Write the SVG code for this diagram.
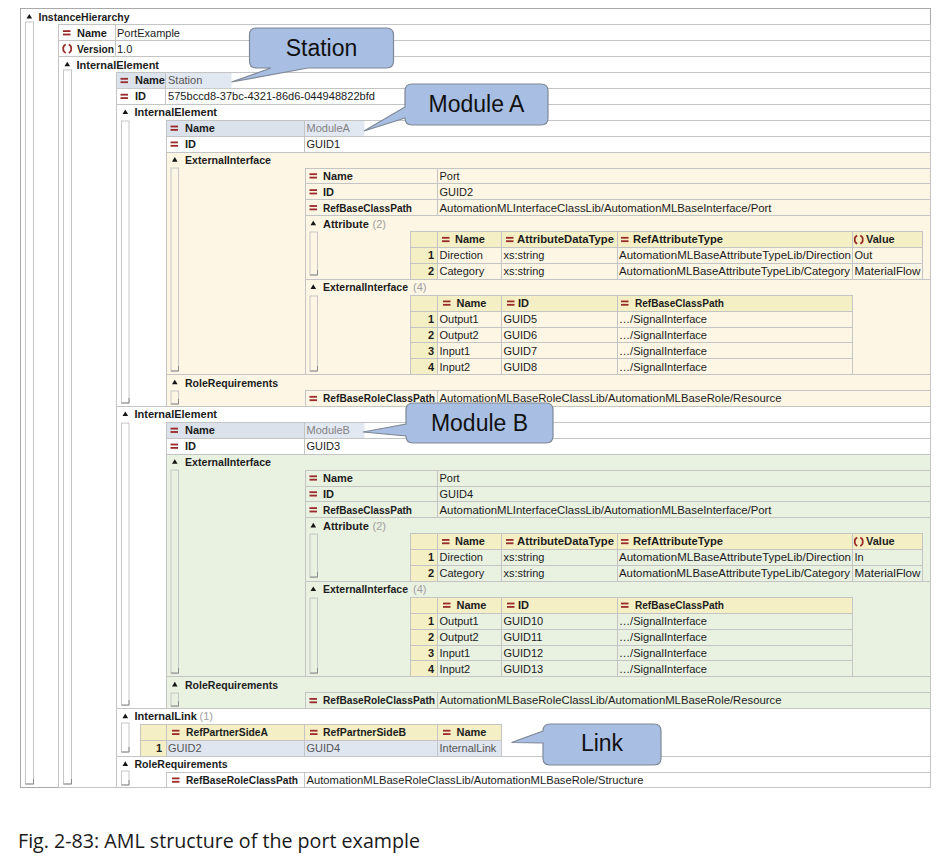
<svg xmlns="http://www.w3.org/2000/svg" width="944" height="860" viewBox="0 0 944 860">
<style>
.t{font-family:"Liberation Sans",Arial,sans-serif;font-size:11px;fill:#1c1c1c}
.b{font-family:"Liberation Sans",Arial,sans-serif;font-size:11px;font-weight:bold;fill:#1c1c1c}
.e{text-anchor:end}
.cnt{fill:#a0a0a0}
.gv{fill:#828282}
.ln{fill:none;stroke:#c4c4c4;stroke-width:1}
.yel{fill:#fdf6e4}
.grn{fill:#e9f1e1}
.hdr{fill:#f4efc4}
.selL{fill:#dbe2ec}
.selV{fill:#e2e8f2}
.bar{fill:none;stroke:#c6c6c6}
.barD{fill:none;stroke:#8a8a8a}
.co{fill:#a8bfe3;stroke:#7e8896;stroke-width:1.2}
.cot{font-family:"Liberation Sans",Arial,sans-serif;font-size:23px;fill:#111;text-anchor:middle}
.cap{font-family:"Open Sans","Noto Sans",sans-serif;font-size:20px;fill:#1a1a1a}
</style>
<defs>
<g id="eq" fill="#9b2b2b"><rect x="0" y="-2.7" width="7.5" height="1.8"/><rect x="0" y="0.7" width="7.5" height="1.8"/></g>
<path id="tri" d="M0,1.6 L5.6,1.6 L2.8,-3 Z" fill="#151515"/>
<path id="br" d="M3.2,-4.2 Q0.2,-2.5 0.8,0 Q0.2,2.5 3.2,4.2 M6.3,-4.2 Q9.3,-2.5 8.7,0 Q9.3,2.5 6.3,4.2" fill="none" stroke="#9b2b2b" stroke-width="1.7"/>
</defs>
<rect width="944" height="860" fill="#fff"/>

<g id="instanceHierarchy">
<rect x="20.5" y="8.5" width="910" height="779" fill="#fff" stroke="#a9a9a9"/>
<g class="ln" shape-rendering="crispEdges">
<rect x="58.5" y="24.9" width="872" height="15.9"/>
<rect x="58.5" y="40.8" width="872" height="15.9"/>
<line x1="115" y1="24.9" x2="115" y2="56.7"/>
<rect x="58.5" y="56.7" width="872" height="730.8"/>
<rect x="116.5" y="72.6" width="814" height="15.9"/>
<rect x="116.5" y="88.5" width="814" height="15.9"/>
</g>
<rect class="selL" x="117" y="73" width="48.5" height="15.2"/>
<rect class="selV" x="165.5" y="73" width="66" height="15.2"/>
<line class="ln" x1="165.5" y1="72.6" x2="165.5" y2="104.4"/>
<rect class="bar" x="25.5" y="22" width="8" height="762"/><path class="barD" d="M33.5,779V784H25.5"/>
<rect class="bar" x="63.5" y="70" width="8" height="714"/><path class="barD" d="M71.5,779V784H63.5"/>
<use href="#tri" x="26.5" y="17"/><text class="b" x="38.5" y="20.8" textLength="91" lengthAdjust="spacingAndGlyphs">InstanceHierarchy</text>
<use href="#eq" x="63" y="32.9"/><text class="b" x="77" y="36.7">Name</text><text class="t" x="117" y="36.7">PortExample</text>
<use href="#br" x="62.5" y="48.8"/><text class="b" x="77" y="52.6" textLength="37" lengthAdjust="spacingAndGlyphs">Version</text><text class="t" x="117" y="52.6">1.0</text>
<use href="#tri" x="64.5" y="64.7"/><text class="b" x="76.5" y="68.5">InternalElement</text>
<use href="#eq" x="120.5" y="80.6"/><text class="b" x="135" y="84.4">Name</text><text class="t" x="168" y="84.4" style="fill:#555">Station</text>
<use href="#eq" x="120.5" y="96.5"/><text class="b" x="135" y="100.3">ID</text><text class="t" x="168" y="100.3" textLength="207" lengthAdjust="spacingAndGlyphs">575bccd8-37bc-4321-86d6-044948822bfd</text>
</g>

<g id="moduleA">
<rect class="yel" x="166.5" y="152.1" width="764" height="254.4"/>
<rect class="selL" x="166.5" y="120.3" width="138" height="15.9"/>
<rect class="selV" x="304.5" y="120.3" width="60" height="15.9"/>
<rect class="hdr" x="410.5" y="231.6" width="511.5" height="15.9"/>
<rect class="hdr" x="410.5" y="247.5" width="26.5" height="31.8"/>
<rect class="hdr" x="410.5" y="295.2" width="441.5" height="15.9"/>
<rect class="hdr" x="410.5" y="311.1" width="26.5" height="63.6"/>
<g class="ln" shape-rendering="crispEdges">
<rect x="116.5" y="104.4" width="814" height="302.1"/>
<rect x="166.5" y="120.3" width="764" height="15.9"/>
<rect x="166.5" y="136.2" width="764" height="15.9"/>
<line x1="304.5" y1="120.3" x2="304.5" y2="152.1"/>
<rect x="166.5" y="152.1" width="764" height="222.6"/>
<rect x="166.5" y="374.7" width="764" height="31.8"/>
<rect x="305.5" y="168" width="625" height="15.9"/>
<rect x="305.5" y="183.9" width="625" height="15.9"/>
<rect x="305.5" y="199.8" width="625" height="15.9"/>
<line x1="437" y1="168" x2="437" y2="215.7"/>
<rect x="305.5" y="215.7" width="625" height="63.6"/>
<rect x="305.5" y="279.3" width="625" height="95.4"/>
<rect x="305.5" y="390.6" width="625" height="15.9"/>
<line x1="437" y1="390.6" x2="437" y2="406.5"/>
<rect x="410.5" y="231.6" width="511.5" height="47.7"/>
<path d="M410.5,247.5H922M410.5,263.4H922M437,231.6V279.3M501.5,231.6V279.3M617,231.6V279.3M852,231.6V279.3"/>
<rect x="410.5" y="295.2" width="441.5" height="79.5"/>
<path d="M410.5,311.1H852M410.5,327H852M410.5,342.9H852M410.5,358.8H852M437,295.2V374.7M501.5,295.2V374.7M617,295.2V374.7"/>
</g>
<rect class="bar" x="121.5" y="121" width="7.5" height="282"/><path class="barD" d="M129,398V403H121.5"/>
<rect class="bar" x="171" y="168" width="7.5" height="203"/><path class="barD" d="M178.5,366V371H171"/>
<rect class="bar" x="310" y="232" width="7.5" height="43"/><path class="barD" d="M317.5,270V275H310"/>
<rect class="bar" x="310" y="296" width="7.5" height="75"/><path class="barD" d="M317.5,366V371H310"/>
<rect class="bar" x="171" y="391" width="7.5" height="13"/><path class="barD" d="M178.5,399V404H171"/>
<use href="#tri" x="122.5" y="112.4"/><text class="b" x="134.5" y="116.2">InternalElement</text>
<use href="#eq" x="170.5" y="128.3"/><text class="b" x="185" y="132.1">Name</text><text class="t gv" x="306.5" y="132.1">ModuleA</text>
<use href="#eq" x="170.5" y="144.2"/><text class="b" x="185" y="148">ID</text><text class="t" x="306.5" y="148">GUID1</text>
<use href="#tri" x="172" y="160.1"/><text class="b" x="185" y="163.9" textLength="86" lengthAdjust="spacingAndGlyphs">ExternalInterface</text>
<use href="#eq" x="309.5" y="176"/><text class="b" x="323" y="179.8">Name</text><text class="t" x="439.5" y="179.8">Port</text>
<use href="#eq" x="309.5" y="191.9"/><text class="b" x="323" y="195.7">ID</text><text class="t" x="439.5" y="195.7">GUID2</text>
<use href="#eq" x="309.5" y="207.8"/><text class="b" x="323" y="211.6" textLength="89" lengthAdjust="spacingAndGlyphs">RefBaseClassPath</text><text class="t" x="439.5" y="211.6" textLength="332" lengthAdjust="spacingAndGlyphs">AutomationMLInterfaceClassLib/AutomationMLBaseInterface/Port</text>
<use href="#tri" x="310.5" y="223.7"/><text class="b" x="323" y="227.5">Attribute</text><text class="t cnt" x="372.5" y="227.5">(2)</text>
<use href="#eq" x="442" y="239.6"/><text class="b" x="455" y="243.4">Name</text>
<use href="#eq" x="506" y="239.6"/><text class="b" x="517" y="243.4" textLength="97" lengthAdjust="spacingAndGlyphs">AttributeDataType</text>
<use href="#eq" x="621" y="239.6"/><text class="b" x="633" y="243.4" textLength="90" lengthAdjust="spacingAndGlyphs">RefAttributeType</text>
<use href="#br" x="854" y="239.6"/><text class="b" x="866" y="243.4">Value</text>
<text class="b e" x="434" y="259.3">1</text><text class="t" x="439.5" y="259.3">Direction</text><text class="t" x="503.5" y="259.3">xs:string</text><text class="t" x="619" y="259.3" textLength="232" lengthAdjust="spacingAndGlyphs">AutomationMLBaseAttributeTypeLib/Direction</text><text class="t" x="854.5" y="259.3">Out</text>
<text class="b e" x="434" y="275.2">2</text><text class="t" x="439.5" y="275.2">Category</text><text class="t" x="503.5" y="275.2">xs:string</text><text class="t" x="619" y="275.2" textLength="231" lengthAdjust="spacingAndGlyphs">AutomationMLBaseAttributeTypeLib/Category</text><text class="t" x="854.5" y="275.2" textLength="66" lengthAdjust="spacingAndGlyphs">MaterialFlow</text>
<use href="#tri" x="310.5" y="287.3"/><text class="b" x="323" y="291.1" textLength="85" lengthAdjust="spacingAndGlyphs">ExternalInterface</text><text class="t cnt" x="413" y="291.1">(4)</text>
<use href="#eq" x="443" y="303.2"/><text class="b" x="456.5" y="307">Name</text>
<use href="#eq" x="507" y="303.2"/><text class="b" x="518" y="307">ID</text>
<use href="#eq" x="621" y="303.2"/><text class="b" x="635" y="307" textLength="89" lengthAdjust="spacingAndGlyphs">RefBaseClassPath</text>
<text class="b e" x="434" y="322.9">1</text><text class="t" x="439.5" y="322.9">Output1</text><text class="t" x="503.5" y="322.9">GUID5</text><text class="t" x="619" y="322.9" textLength="88" lengthAdjust="spacingAndGlyphs">…/SignalInterface</text>
<text class="b e" x="434" y="338.8">2</text><text class="t" x="439.5" y="338.8">Output2</text><text class="t" x="503.5" y="338.8">GUID6</text><text class="t" x="619" y="338.8" textLength="88" lengthAdjust="spacingAndGlyphs">…/SignalInterface</text>
<text class="b e" x="434" y="354.7">3</text><text class="t" x="439.5" y="354.7">Input1</text><text class="t" x="503.5" y="354.7">GUID7</text><text class="t" x="619" y="354.7" textLength="88" lengthAdjust="spacingAndGlyphs">…/SignalInterface</text>
<text class="b e" x="434" y="370.6">4</text><text class="t" x="439.5" y="370.6">Input2</text><text class="t" x="503.5" y="370.6">GUID8</text><text class="t" x="619" y="370.6" textLength="88" lengthAdjust="spacingAndGlyphs">…/SignalInterface</text>
<use href="#tri" x="172" y="382.7"/><text class="b" x="185" y="386.5" textLength="93" lengthAdjust="spacingAndGlyphs">RoleRequirements</text>
<use href="#eq" x="309.5" y="398.6"/><text class="b" x="323" y="402.4" textLength="112" lengthAdjust="spacingAndGlyphs">RefBaseRoleClassPath</text><text class="t" x="439.5" y="402.4" textLength="342" lengthAdjust="spacingAndGlyphs">AutomationMLBaseRoleClassLib/AutomationMLBaseRole/Resource</text>
</g>

<g id="moduleB" transform="translate(0,302.1)">
<rect class="grn" x="166.5" y="152.1" width="764" height="254.4"/>
<rect class="selL" x="166.5" y="120.3" width="138" height="15.9"/>
<rect class="selV" x="304.5" y="120.3" width="60" height="15.9"/>
<rect class="hdr" x="410.5" y="231.6" width="511.5" height="15.9"/>
<rect class="hdr" x="410.5" y="247.5" width="26.5" height="31.8"/>
<rect class="hdr" x="410.5" y="295.2" width="441.5" height="15.9"/>
<rect class="hdr" x="410.5" y="311.1" width="26.5" height="63.6"/>
<g class="ln" shape-rendering="crispEdges">
<rect x="116.5" y="104.4" width="814" height="302.1"/>
<rect x="166.5" y="120.3" width="764" height="15.9"/>
<rect x="166.5" y="136.2" width="764" height="15.9"/>
<line x1="304.5" y1="120.3" x2="304.5" y2="152.1"/>
<rect x="166.5" y="152.1" width="764" height="222.6"/>
<rect x="166.5" y="374.7" width="764" height="31.8"/>
<rect x="305.5" y="168" width="625" height="15.9"/>
<rect x="305.5" y="183.9" width="625" height="15.9"/>
<rect x="305.5" y="199.8" width="625" height="15.9"/>
<line x1="437" y1="168" x2="437" y2="215.7"/>
<rect x="305.5" y="215.7" width="625" height="63.6"/>
<rect x="305.5" y="279.3" width="625" height="95.4"/>
<rect x="305.5" y="390.6" width="625" height="15.9"/>
<line x1="437" y1="390.6" x2="437" y2="406.5"/>
<rect x="410.5" y="231.6" width="511.5" height="47.7"/>
<path d="M410.5,247.5H922M410.5,263.4H922M437,231.6V279.3M501.5,231.6V279.3M617,231.6V279.3M852,231.6V279.3"/>
<rect x="410.5" y="295.2" width="441.5" height="79.5"/>
<path d="M410.5,311.1H852M410.5,327H852M410.5,342.9H852M410.5,358.8H852M437,295.2V374.7M501.5,295.2V374.7M617,295.2V374.7"/>
</g>
<rect class="bar" x="121.5" y="121" width="7.5" height="282"/><path class="barD" d="M129,398V403H121.5"/>
<rect class="bar" x="171" y="168" width="7.5" height="203"/><path class="barD" d="M178.5,366V371H171"/>
<rect class="bar" x="310" y="232" width="7.5" height="43"/><path class="barD" d="M317.5,270V275H310"/>
<rect class="bar" x="310" y="296" width="7.5" height="75"/><path class="barD" d="M317.5,366V371H310"/>
<rect class="bar" x="171" y="391" width="7.5" height="13"/><path class="barD" d="M178.5,399V404H171"/>
<use href="#tri" x="122.5" y="112.4"/><text class="b" x="134.5" y="116.2">InternalElement</text>
<use href="#eq" x="170.5" y="128.3"/><text class="b" x="185" y="132.1">Name</text><text class="t gv" x="306.5" y="132.1">ModuleB</text>
<use href="#eq" x="170.5" y="144.2"/><text class="b" x="185" y="148">ID</text><text class="t" x="306.5" y="148">GUID3</text>
<use href="#tri" x="172" y="160.1"/><text class="b" x="185" y="163.9" textLength="86" lengthAdjust="spacingAndGlyphs">ExternalInterface</text>
<use href="#eq" x="309.5" y="176"/><text class="b" x="323" y="179.8">Name</text><text class="t" x="439.5" y="179.8">Port</text>
<use href="#eq" x="309.5" y="191.9"/><text class="b" x="323" y="195.7">ID</text><text class="t" x="439.5" y="195.7">GUID4</text>
<use href="#eq" x="309.5" y="207.8"/><text class="b" x="323" y="211.6" textLength="89" lengthAdjust="spacingAndGlyphs">RefBaseClassPath</text><text class="t" x="439.5" y="211.6" textLength="332" lengthAdjust="spacingAndGlyphs">AutomationMLInterfaceClassLib/AutomationMLBaseInterface/Port</text>
<use href="#tri" x="310.5" y="223.7"/><text class="b" x="323" y="227.5">Attribute</text><text class="t cnt" x="372.5" y="227.5">(2)</text>
<use href="#eq" x="442" y="239.6"/><text class="b" x="455" y="243.4">Name</text>
<use href="#eq" x="506" y="239.6"/><text class="b" x="517" y="243.4" textLength="97" lengthAdjust="spacingAndGlyphs">AttributeDataType</text>
<use href="#eq" x="621" y="239.6"/><text class="b" x="633" y="243.4" textLength="90" lengthAdjust="spacingAndGlyphs">RefAttributeType</text>
<use href="#br" x="854" y="239.6"/><text class="b" x="866" y="243.4">Value</text>
<text class="b e" x="434" y="259.3">1</text><text class="t" x="439.5" y="259.3">Direction</text><text class="t" x="503.5" y="259.3">xs:string</text><text class="t" x="619" y="259.3" textLength="232" lengthAdjust="spacingAndGlyphs">AutomationMLBaseAttributeTypeLib/Direction</text><text class="t" x="854.5" y="259.3">In</text>
<text class="b e" x="434" y="275.2">2</text><text class="t" x="439.5" y="275.2">Category</text><text class="t" x="503.5" y="275.2">xs:string</text><text class="t" x="619" y="275.2" textLength="231" lengthAdjust="spacingAndGlyphs">AutomationMLBaseAttributeTypeLib/Category</text><text class="t" x="854.5" y="275.2" textLength="66" lengthAdjust="spacingAndGlyphs">MaterialFlow</text>
<use href="#tri" x="310.5" y="287.3"/><text class="b" x="323" y="291.1" textLength="85" lengthAdjust="spacingAndGlyphs">ExternalInterface</text><text class="t cnt" x="413" y="291.1">(4)</text>
<use href="#eq" x="443" y="303.2"/><text class="b" x="456.5" y="307">Name</text>
<use href="#eq" x="507" y="303.2"/><text class="b" x="518" y="307">ID</text>
<use href="#eq" x="621" y="303.2"/><text class="b" x="635" y="307" textLength="89" lengthAdjust="spacingAndGlyphs">RefBaseClassPath</text>
<text class="b e" x="434" y="322.9">1</text><text class="t" x="439.5" y="322.9">Output1</text><text class="t" x="503.5" y="322.9">GUID10</text><text class="t" x="619" y="322.9" textLength="88" lengthAdjust="spacingAndGlyphs">…/SignalInterface</text>
<text class="b e" x="434" y="338.8">2</text><text class="t" x="439.5" y="338.8">Output2</text><text class="t" x="503.5" y="338.8">GUID11</text><text class="t" x="619" y="338.8" textLength="88" lengthAdjust="spacingAndGlyphs">…/SignalInterface</text>
<text class="b e" x="434" y="354.7">3</text><text class="t" x="439.5" y="354.7">Input1</text><text class="t" x="503.5" y="354.7">GUID12</text><text class="t" x="619" y="354.7" textLength="88" lengthAdjust="spacingAndGlyphs">…/SignalInterface</text>
<text class="b e" x="434" y="370.6">4</text><text class="t" x="439.5" y="370.6">Input2</text><text class="t" x="503.5" y="370.6">GUID13</text><text class="t" x="619" y="370.6" textLength="88" lengthAdjust="spacingAndGlyphs">…/SignalInterface</text>
<use href="#tri" x="172" y="382.7"/><text class="b" x="185" y="386.5" textLength="93" lengthAdjust="spacingAndGlyphs">RoleRequirements</text>
<use href="#eq" x="309.5" y="398.6"/><text class="b" x="323" y="402.4" textLength="112" lengthAdjust="spacingAndGlyphs">RefBaseRoleClassPath</text><text class="t" x="439.5" y="402.4" textLength="342" lengthAdjust="spacingAndGlyphs">AutomationMLBaseRoleClassLib/AutomationMLBaseRole/Resource</text>
</g>

<g id="internalLink">
<rect class="hdr" x="140.5" y="724.5" width="361" height="15.9"/>
<rect class="hdr" x="140.5" y="740.4" width="26" height="15.9"/>
<rect fill="#dfe6f0" x="166.5" y="740.4" width="335" height="15.9"/>
<g class="ln" shape-rendering="crispEdges">
<rect x="116.5" y="708.6" width="814" height="47.7"/>
<rect x="140.5" y="724.5" width="361" height="31.8"/>
<path d="M140.5,740.4H501.5M166.5,724.5V756.3M304.5,724.5V756.3M437,724.5V756.3"/>
</g>
<rect class="bar" x="121.5" y="723" width="7.5" height="29"/><path class="barD" d="M129,747V752H121.5"/>
<use href="#tri" x="122.5" y="716.6"/><text class="b" x="134.5" y="720.4">InternalLink</text><text class="t cnt" x="199.5" y="720.4">(1)</text>
<use href="#eq" x="172" y="732.5"/><text class="b" x="186" y="736.3" textLength="82" lengthAdjust="spacingAndGlyphs">RefPartnerSideA</text>
<use href="#eq" x="310" y="732.5"/><text class="b" x="323" y="736.3" textLength="83" lengthAdjust="spacingAndGlyphs">RefPartnerSideB</text>
<use href="#eq" x="443" y="732.5"/><text class="b" x="456.5" y="736.3">Name</text>
<text class="b e" x="162" y="752.2">1</text><text class="t" x="168" y="752.2" style="fill:#555">GUID2</text><text class="t" x="306.5" y="752.2" style="fill:#555">GUID4</text><text class="t" x="439.5" y="752.2" style="fill:#555">InternalLink</text>
</g>

<g id="roleRequirements">
<g class="ln" shape-rendering="crispEdges">
<rect x="116.5" y="756.3" width="814" height="31.2"/>
<rect x="166.5" y="772.2" width="764" height="15.3"/>
<line x1="304.5" y1="772.2" x2="304.5" y2="787.5"/>
</g>
<rect class="bar" x="121.5" y="771" width="7.5" height="14"/><path class="barD" d="M129,780V785H121.5"/>
<use href="#tri" x="122.5" y="764.3"/><text class="b" x="134.5" y="768.1" textLength="93" lengthAdjust="spacingAndGlyphs">RoleRequirements</text>
<use href="#eq" x="172" y="780.2"/><text class="b" x="186" y="784" textLength="112" lengthAdjust="spacingAndGlyphs">RefBaseRoleClassPath</text><text class="t" x="306.5" y="784" textLength="337" lengthAdjust="spacingAndGlyphs">AutomationMLBaseRoleClassLib/AutomationMLBaseRole/Structure</text>
</g>

<g id="connectors"></g>

<g id="callout-station">
<path class="co" d="M256.5,28 H386.5 Q393.5,28 393.5,35 V61 Q393.5,68 386.5,68 H308 L231.5,82 L271,68 H256.5 Q249.5,68 249.5,61 V35 Q249.5,28 256.5,28 Z"/>
<text class="cot" x="321.5" y="56">Station</text>
</g>
<g id="callout-moduleA">
<path class="co" d="M412,84 H541 Q548,84 548,91 V118 Q548,125 541,125 H412 Q405,125 405,118 L364,131 L405,107 V91 Q405,84 412,84 Z"/>
<text class="cot" x="476.5" y="111.5">Module A</text>
</g>
<g id="callout-moduleB">
<path class="co" d="M413,403 H546 Q553,403 553,410 V436 Q553,443 546,443 H413 Q406,443 406,436 L363,432 L406,424 V410 Q406,403 413,403 Z"/>
<text class="cot" x="479.5" y="431">Module B</text>
</g>
<g id="callout-link">
<path class="co" d="M550,724 H654 Q661,724 661,731 V758 Q661,765 654,765 H550 Q543,765 543,758 V743 L511.5,742.5 L543,731 Q543,724 550,724 Z"/>
<text class="cot" x="602" y="751">Link</text>
</g>

<text class="cap" x="18" y="848" textLength="402" lengthAdjust="spacingAndGlyphs">Fig. 2-83: AML structure of the port example</text>
</svg>
